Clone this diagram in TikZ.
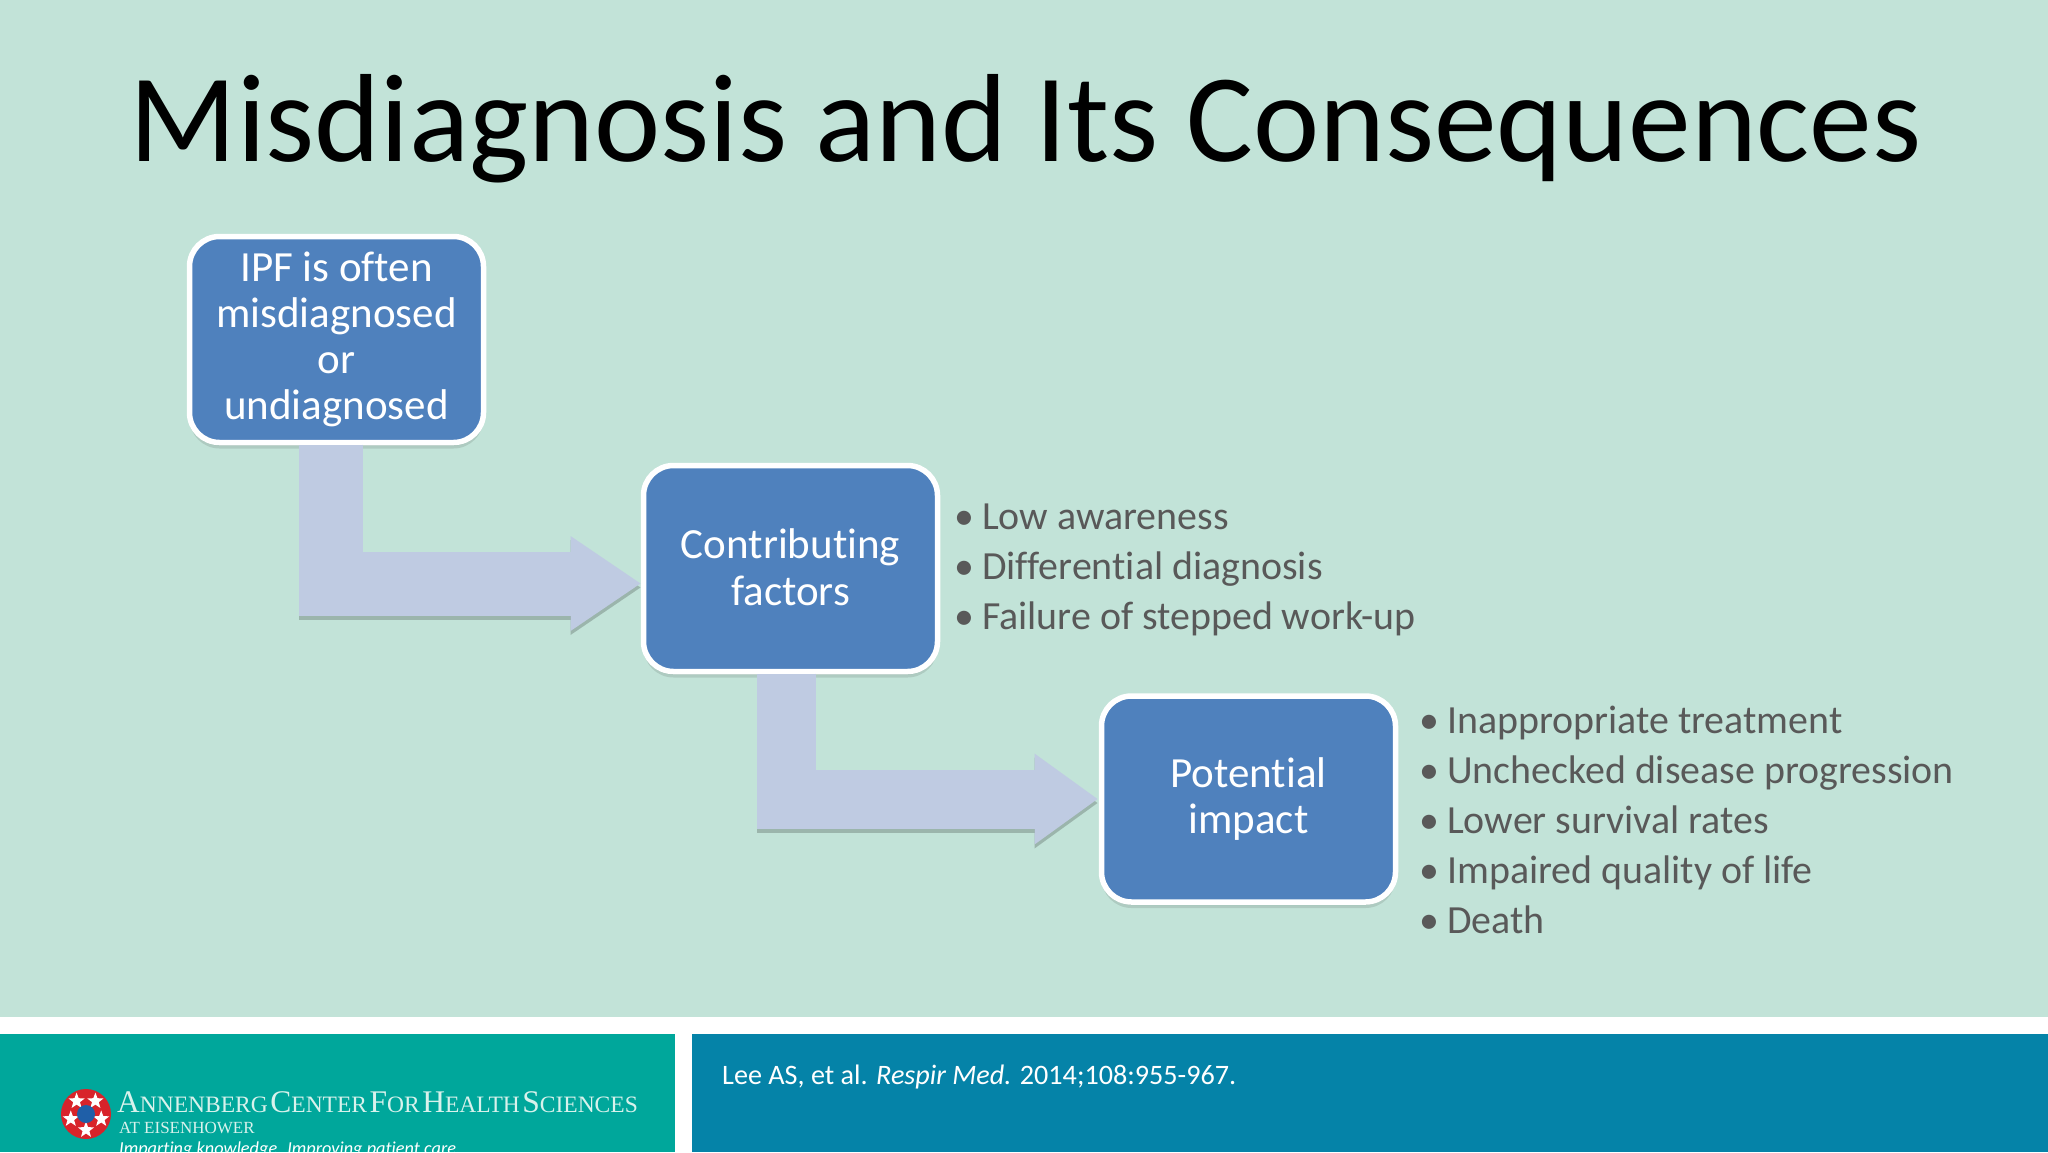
\documentclass[tikz,border=0pt]{standalone}
\usepackage{fontspec}
\setmainfont[Ligatures=NoCommon]{Carlito}
\newfontfamily\logofont{Liberation Serif}
\usetikzlibrary{arrows.meta,shapes.geometric,shadows}
\definecolor{bgc}{HTML}{C2E3D8}
\definecolor{boxc}{HTML}{4F81BD}
\definecolor{arrc}{HTML}{BFCBE2}
\definecolor{tealc}{HTML}{00A79B}
\definecolor{bluec}{HTML}{0583A8}
\definecolor{grayt}{HTML}{595959}
\definecolor{logored}{HTML}{D8232A}
\definecolor{logoblue}{HTML}{1F5FA8}
\definecolor{logot}{HTML}{D8F2EC}
\tikzset{
  x=1pt,y=-1pt,
  flowbox/.style={draw=white,line width=5.5pt,fill=boxc,rounded corners=30pt,minimum width=294pt,minimum height=206pt,
    inner sep=0pt,outer sep=0pt,text=white,align=center,font=\fontsize{43}{46.2}\selectfont,
    general shadow={shadow xshift=0pt,shadow yshift=-3pt,fill=black,opacity=.10},
    general shadow={shadow xshift=0pt,shadow yshift=-6pt,fill=black,opacity=.10}},
  bigtip/.tip={Triangle[length=70pt,width=95pt,line width=0pt]},
  smalltip/.tip={Triangle[length=63pt,width=91pt,line width=0pt]},
  bentarrow/.style={line width=64pt,arrc,-bigtip},
  bentshadow/.style={line width=64pt,black,opacity=.2,-bigtip},
  bentarrowb/.style={line width=59pt,arrc,-smalltip},
  bentshadowb/.style={line width=59pt,black,opacity=.2,-smalltip},
  bullet/.style={anchor=base west,inner sep=0pt,text=grayt,font=\fontsize{39.9}{46}\selectfont},
  logostar/.style={star,star points=5,star point ratio=2.4,fill=white,minimum size=17pt,inner sep=0pt},
}
\newcommand{\bl}[1]{\makebox[28pt][l]{•}#1}
\newcommand{\smcp}[2]{{\fontsize{31.5}{31}\selectfont #1}{\fontsize{23.5}{23}\selectfont #2}}
\newcommand{\up}[2]{\raisebox{#1}{#2}}
\begin{document}
\begin{tikzpicture}
\useasboundingbox (0,0) rectangle (2048,1152);
\clip (0,0) rectangle (2048,1152);
\fill[bgc] (0,0) rectangle (2048,1152);
\fill[white] (0,1017) rectangle (2048,1152);
\fill[tealc] (0,1034) rectangle (675,1152);
\fill[bluec] (692,1034) rectangle (2048,1152);

\node[anchor=base,inner sep=0pt,font=\fontsize{125.4}{125}\selectfont] (title) at (1026,161) {Misdiagnosis and Its Consequences};

\node[flowbox] (boxa) at (336.5,339.5) {\up{-1.5pt}{IPF is often}\\\up{-1.5pt}{misdiagnosed}\\\up{-1.5pt}{or}\\\up{-1.5pt}{undiagnosed}};
\node[flowbox] (boxb) at (790.5,568.5) {\up{3pt}{Contributing}\\\up{3pt}{factors}};
\node[flowbox] (boxc) at (1248.5,799) {\up{-1.3pt}{Potential}\\\up{-1.3pt}{impact}};

\draw[bentshadow] ([xshift=-6pt,yshift=-6pt]boxa.south) |- ([xshift=-3pt,yshift=-19pt]boxb.west);
\draw[bentarrow] ([xshift=-6pt,yshift=-2pt]boxa.south) |- ([xshift=-3pt,yshift=-15pt]boxb.west);
\draw[bentshadowb] ([xshift=-4.5pt,yshift=-6pt]boxb.south) |- ([xshift=-4pt,yshift=-4pt]boxc.west);
\draw[bentarrowb] ([xshift=-4.5pt,yshift=-2pt]boxb.south) |- ([xshift=-4pt]boxc.west);

\node[bullet] (la) at (954,529) {\bl{Low awareness}};
\node[bullet] (lb) at (954,579) {\bl{Differential diagnosis}};
\node[bullet] (lc) at (954,629.5) {\bl{Failure of stepped work-up}};
\node[bullet] (ma) at (1419,733) {\bl{Inappropriate treatment}};
\node[bullet] (mb) at (1419,783) {\bl{Unchecked disease progression}};
\node[bullet] (mc) at (1419,833) {\bl{Lower survival rates}};
\node[bullet] (md) at (1419,883) {\bl{Impaired quality of life}};
\node[bullet] (me) at (1419,933.5) {\bl{Death}};

\node[anchor=base west,inner sep=0pt,text=white,font=\fontsize{28.15}{28}\selectfont] (cite) at (722,1084) {Lee AS, et al. \textit{Respir Med.} 2014;108:955-967.};

\node[ellipse,fill=logored,minimum width=50pt,minimum height=50pt,inner sep=0pt] (logo) at (86,1114) {};
\foreach \a/\n in {54/s1,126/s2,198/s3,270/s4,342/s5}
  \node[logostar] (\n) at ([shift={(\a:16pt)}]logo.center) {};
\node[circle,fill=logoblue,minimum size=18pt,inner sep=0pt] (logoc) at (logo.center) {};

\node[anchor=base west,inner sep=0pt,text=logot] (an) at (117,1112) {\logofont\smcp{A}{NNENBERG} \smcp{C}{ENTER} \smcp{F}{OR} \smcp{H}{EALTH} \smcp{S}{CIENCES}};
\node[anchor=base west,inner sep=0pt,text=logot,font=\logofont\fontsize{17}{17}\selectfont] (at) at (119,1133) {AT EISENHOWER};
\node[anchor=base west,inner sep=0pt,text=white,font=\fontsize{18.3}{19}\selectfont\itshape] (tag) at (119,1154) {Imparting knowledge. Improving patient care.};
\end{tikzpicture}
\end{document}
